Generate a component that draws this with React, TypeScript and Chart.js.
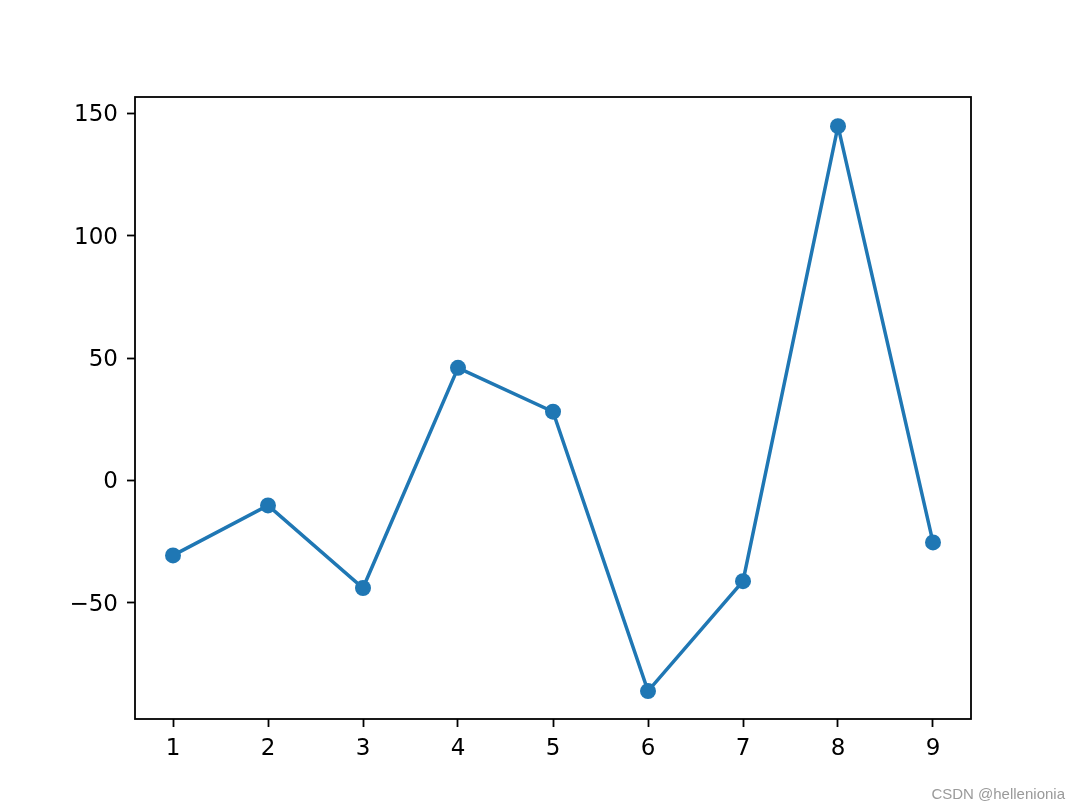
import React, { useEffect, useRef } from "react";
import { Chart, registerables } from "chart.js";

Chart.register(...registerables);

const xValues = [1, 2, 3, 4, 5, 6, 7, 8, 9];
const yValues = [-30.6, -10.2, -43.9, 46.0, 28.1, -86.0, -41.1, 144.7, -25.3];
const xTicks = [1, 2, 3, 4, 5, 6, 7, 8, 9];
const yTicks = [-50, 0, 50, 100, 150];

const LINE_COLOR = "#1f77b4";
const FONT = "'DejaVu Sans', sans-serif";

const spinesPlugin = {
  id: "spines",
  afterDraw(chart: any) {
    const { ctx, chartArea } = chart;
    ctx.save();
    ctx.strokeStyle = "#000";
    ctx.lineWidth = 1.8;
    ctx.strokeRect(
      chartArea.left,
      chartArea.top,
      chartArea.right - chartArea.left,
      chartArea.bottom - chartArea.top
    );
    ctx.restore();
  },
};

export default function App() {
  const ref = useRef<HTMLCanvasElement | null>(null);

  useEffect(() => {
    if (!ref.current) return;
    const data = xValues.map((x, i) => ({ x, y: yValues[i] }));
    const chart = new Chart(ref.current, {
      type: "line",
      data: {
        datasets: [
          {
            data,
            borderColor: LINE_COLOR,
            backgroundColor: LINE_COLOR,
            borderWidth: 3.5,
            pointRadius: 8,
            pointBorderWidth: 0,
            pointBackgroundColor: LINE_COLOR,
            tension: 0,
            fill: false,
          },
        ],
      },
      options: {
        responsive: false,
        animation: false,
        devicePixelRatio: 1,
        layout: { padding: { top: 97, right: 109, bottom: 0, left: 0 } },
        plugins: {
          legend: { display: false },
          tooltip: { enabled: false },
        },
        scales: {
          x: {
            type: "linear",
            min: 0.6,
            max: 9.4,
            afterBuildTicks: (scale: any) => {
              scale.ticks = xTicks.map((v) => ({ value: v }));
            },
            afterFit: (scale: any) => {
              scale.height = 91;
            },
            border: { display: false },
            grid: {
              drawOnChartArea: false,
              drawTicks: true,
              tickLength: 8,
              tickWidth: 1.8,
              tickColor: "#000",
            },
            ticks: {
              autoSkip: false,
              maxRotation: 0,
              padding: 8,
              color: "#000",
              font: { family: FONT, size: 23 },
              callback: (v: any) => String(v),
            },
          },
          y: {
            type: "linear",
            min: -97.4,
            max: 156.6,
            afterBuildTicks: (scale: any) => {
              scale.ticks = yTicks.map((v) => ({ value: v }));
            },
            afterFit: (scale: any) => {
              scale.width = 135;
            },
            border: { display: false },
            grid: {
              drawOnChartArea: false,
              drawTicks: true,
              tickLength: 8,
              tickWidth: 1.8,
              tickColor: "#000",
            },
            ticks: {
              autoSkip: false,
              padding: 9,
              labelOffset: 2,
              color: "#000",
              font: { family: FONT, size: 23 },
              callback: (v: any) => String(v).replace("-", "\u2212"),
            },
          },
        },
      },
      plugins: [spinesPlugin],
    } as any);
    return () => chart.destroy();
  }, []);

  return (
    <div
      style={{
        position: "fixed",
        left: 0,
        top: 0,
        width: 1080,
        height: 810,
        background: "#fff",
      }}
    >
      <canvas ref={ref} width={1080} height={810} style={{ display: "block" }} />
      <div
        style={{
          position: "absolute",
          right: 15,
          top: 784,
          fontFamily: "'Liberation Sans', Arial, sans-serif",
          fontSize: 15,
          color: "#9a9a9a",
          lineHeight: "20px",
        }}
      >
        CSDN @hellenionia
      </div>
    </div>
  );
}
